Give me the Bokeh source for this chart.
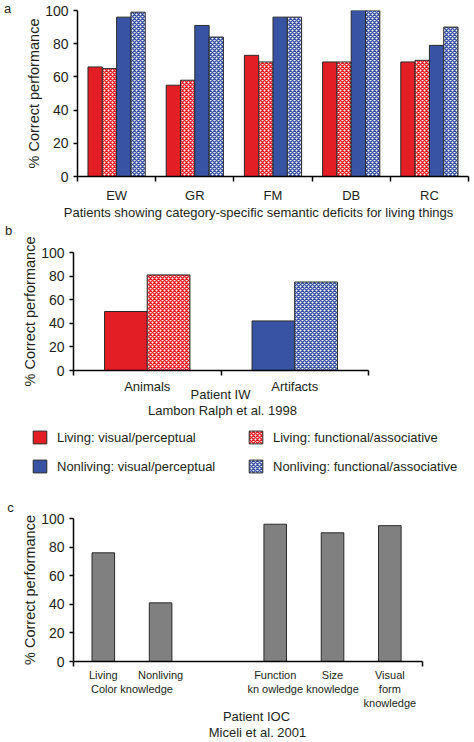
from bokeh.embed import file_html
from bokeh.layouts import column
from bokeh.models import FixedTicker, Label, Legend, LegendItem, Range1d
from bokeh.plotting import figure
from bokeh.resources import INLINE

FONT = "Liberation Sans"
INK = "#231f20"
RED = "#e31e24"
BLUE = "#3953a4"
GREY = "#808080"
EDGE = "#2a2a2a"

# panel a: patients with deficits for living things
patients = ["EW", "GR", "FM", "DB", "RC"]
living_visual_a = [66, 55, 73, 69, 69]
living_functional_a = [65, 58, 69, 69, 70]
nonliving_visual_a = [96, 91, 96, 100, 79]
nonliving_functional_a = [99, 84, 96, 100, 90]

# panel b: patient IW
domains_b = ["Animals", "Artifacts"]
visual_b = [50, 42]
functional_b = [81, 75]

# shared legend
legend_left = ["Living: visual/perceptual", "Nonliving: visual/perceptual"]
legend_right = ["Living: functional/associative", "Nonliving: functional/associative"]

# panel c: patient IOC (positions in half slots, gap between the two groups)
slots_c = [0, 2, 6, 8, 10]
scores_c = [76, 41, 96, 90, 95]
labels_c = {0: "Living", 1: "\nColor knowledge", 2: "Nonliving",
            6: "Function\nkn owledge", 8: "Size\nknowledge",
            10: "Visual\nform\nknowledge"}

y_ticks = [0, 20, 40, 60, 80, 100]


def make_fig(height, x_range, left, right, top, bottom):
    # left/right/top/bottom: frame edges in pixels inside this figure
    p = figure(width=474, height=height, x_range=x_range, y_range=Range1d(0, 100),
               output_backend="svg", toolbar_location=None, frame_align=False,
               min_border_left=left, min_border_right=474 - right,
               min_border_top=top, min_border_bottom=height - bottom)
    p.outline_line_color = None
    p.grid.visible = False
    for ax in (p.xaxis[0], p.yaxis[0]):
        ax.axis_line_color = "black"
        ax.axis_line_width = 1.5
        ax.major_tick_line_color = "black"
        ax.major_tick_line_width = 1.5
        ax.minor_tick_line_color = "black"
        ax.minor_tick_line_width = 1.5
        ax.major_tick_in = 0
        ax.minor_tick_in = 0
        ax.major_label_text_font = FONT
        ax.major_label_text_font_size = "13px"
        ax.major_label_text_color = INK
        ax.axis_label_text_font = FONT
        ax.axis_label_text_font_size = "14.5px"
        ax.axis_label_text_font_style = "normal"
        ax.axis_label_text_color = INK
    p.yaxis.ticker = FixedTicker(ticks=y_ticks, minor_ticks=[])
    p.yaxis.major_label_text_font_size = "14px"
    p.yaxis.major_tick_out = 4
    p.yaxis.major_label_standoff = 5
    p.yaxis.axis_label = "% Correct performance"
    p.yaxis.axis_label_standoff = 0
    return p


def note(p, text, x, y, side="below", size="13px"):
    # x, y: canvas pixels from the figure's top-left corner
    p.add_layout(Label(x=x, y=y, x_units="canvas", y_units="canvas", text=text,
                       text_font=FONT, text_font_size=size, text_color=INK,
                       text_align="center", text_baseline="middle"), side)


def solid(p, x, top, width, color):
    return p.vbar(x=x, top=top, bottom=0, width=width, fill_color=color,
                  line_color=EDGE, line_width=1)


def hatched(p, x, top, width, color):
    return p.vbar(x=x, top=top, bottom=0, width=width, fill_color="white",
                  hatch_pattern="diagonal_cross", hatch_color=color,
                  hatch_scale=4, hatch_weight=1.5,
                  line_color=EDGE, line_width=1)


def panel_a():
    p = make_fig(220, Range1d(-0.5, 4.5), 77, 468, 10, 176)
    idx = list(range(len(patients)))
    w = 0.183
    solid(p, [i - 0.2745 for i in idx], living_visual_a, w, RED)
    hatched(p, [i - 0.0915 for i in idx], living_functional_a, w, RED)
    solid(p, [i + 0.0915 for i in idx], nonliving_visual_a, w, BLUE)
    hatched(p, [i + 0.2745 for i in idx], nonliving_functional_a, w, BLUE)
    p.xaxis.ticker = FixedTicker(ticks=idx, minor_ticks=[i - 0.5 for i in range(6)])
    p.xaxis.major_label_overrides = {i: name for i, name in enumerate(patients)}
    p.xaxis.major_tick_line_color = None
    p.xaxis.major_tick_out = 5
    p.xaxis.minor_tick_out = 5
    p.xaxis.major_label_standoff = 6
    note(p, "a", 7, 8, side="left")
    note(p, "Patients showing category-specific semantic deficits for living things", 258, 212)
    return p


def bars_b(p):
    w = 0.29
    return (solid(p, [-0.1445], visual_b[:1], w, RED),
            hatched(p, [0.1445], functional_b[:1], w, RED),
            solid(p, [1 - 0.1445], visual_b[1:], w, BLUE),
            hatched(p, [1 + 0.1445], functional_b[1:], w, BLUE))


def panel_b():
    p = make_fig(200, Range1d(-0.5, 1.5), 73, 368, 32, 150)
    bars_b(p)
    p.xaxis.ticker = FixedTicker(ticks=[0, 1], minor_ticks=[-0.5, 0.5, 1.5])
    p.xaxis.major_label_overrides = {i: name for i, name in enumerate(domains_b)}
    p.xaxis.major_tick_line_color = None
    p.xaxis.major_tick_out = 5
    p.xaxis.minor_tick_out = 5
    p.xaxis.major_label_standoff = 3
    note(p, "b", 8, 10, side="left")
    note(p, "Patient IW", 220, 174, side="right")
    note(p, "Lambon Ralph et al. 1998", 222, 190)
    return p


def legend_strip():
    # a frame-only strip that carries the legend; its bars lie outside the view
    p = figure(width=474, height=60, x_range=Range1d(10, 11), y_range=Range1d(200, 201),
               output_backend="svg", toolbar_location=None, frame_align=False,
               x_axis_location=None, y_axis_location=None, min_border=0)
    p.outline_line_color = None
    p.grid.visible = False
    r1, r2, r3, r4 = bars_b(p)
    for labels, rends, x0 in ((legend_left, (r1, r3), 31), (legend_right, (r2, r4), 247)):
        leg = Legend(items=[LegendItem(label=t, renderers=[r]) for t, r in zip(labels, rends)],
                     location=(x0, 6), orientation="vertical",
                     glyph_width=17, glyph_height=16, label_height=16,
                     spacing=13, label_standoff=9, padding=0, margin=0,
                     border_line_color=None, background_fill_alpha=0,
                     label_text_font=FONT, label_text_font_size="13px",
                     label_text_color=INK)
        p.add_layout(leg)
    return p


def panel_c():
    p = make_fig(262, Range1d(-1.04, 11.14), 73, 422, 38, 186)
    p.vbar(x=slots_c, top=scores_c, bottom=0, width=0.788, fill_color=GREY,
           line_color=EDGE, line_width=1)
    p.xaxis.ticker = FixedTicker(ticks=sorted(labels_c), minor_ticks=[-1.04, 11.14])
    p.xaxis.major_label_overrides = labels_c
    p.xaxis.major_label_text_font_size = "11px"
    p.xaxis.major_tick_line_color = None
    p.xaxis.major_tick_out = 5
    p.xaxis.minor_tick_out = 5
    p.xaxis.major_label_standoff = 2
    note(p, "c", 10, 27, side="left")
    note(p, "Patient IOC", 256, 236)
    note(p, "Miceli et al. 2001", 257, 252)
    return p


layout = column(panel_a(), panel_b(), legend_strip(), panel_c(), spacing=0)

open("out.html", "w").write(file_html(layout, INLINE))
